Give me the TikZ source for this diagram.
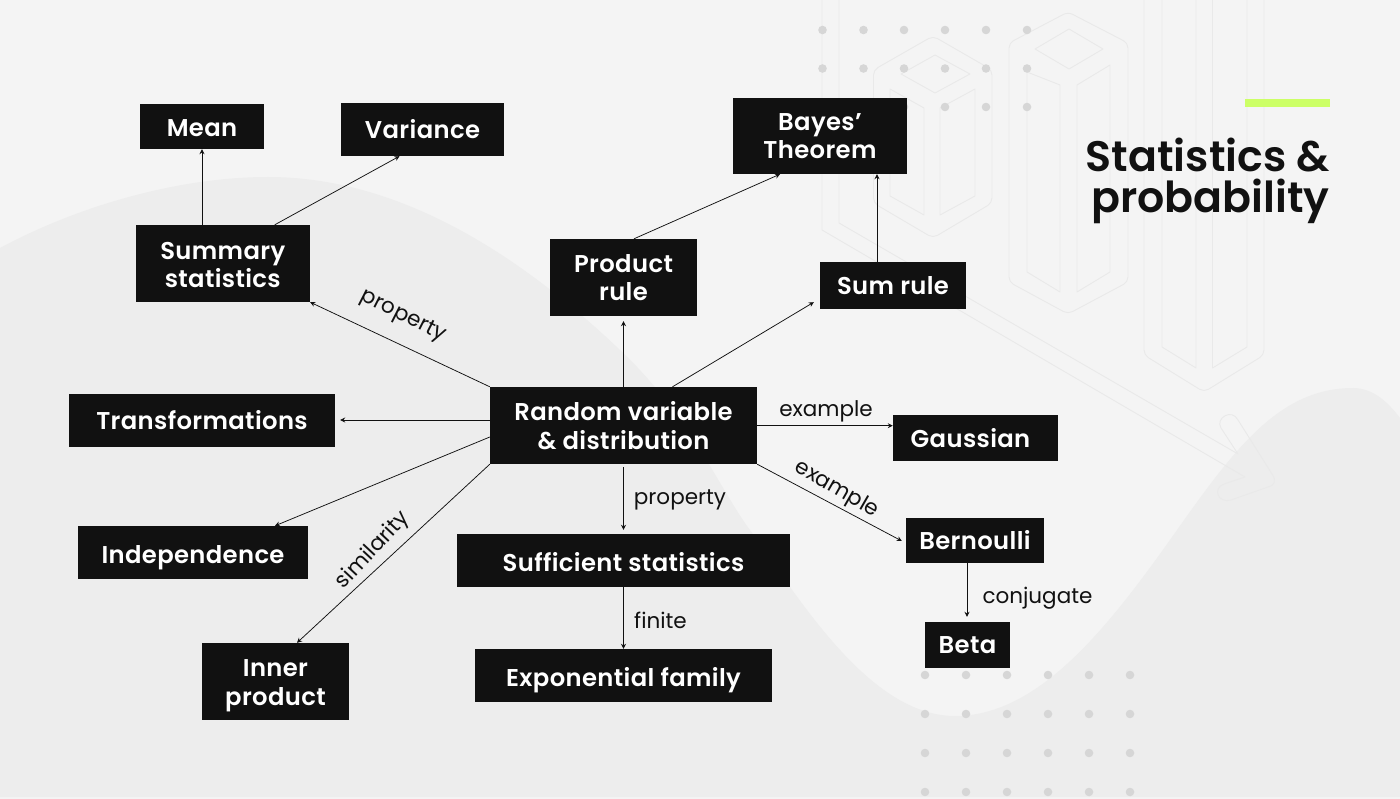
\documentclass[tikz,border=0pt]{standalone}
\usepackage{fontspec}
\usetikzlibrary{arrows.meta,calc}
\newfontfamily\popsb[LetterSpace=1.5]{Poppins SemiBold}
\newfontfamily\poptitle{Poppins SemiBold}
\newfontfamily\popreg{Poppins}
\definecolor{bgc}{HTML}{F4F4F4}
\definecolor{wavec}{HTML}{EDEDED}
\definecolor{linec}{HTML}{E9E9E9}
\definecolor{dotc}{HTML}{D6D6D6}
\definecolor{boxc}{HTML}{111111}
\definecolor{barc}{HTML}{CCFF66}
\tikzset{
  bx/.style={fill=boxc,text=white,inner sep=0pt,font=\popsb\fontsize{24.3}{28.5}\selectfont,align=center,anchor=center},
  lab/.style={text=boxc,inner sep=0pt,font=\popreg\fontsize{21.5}{25}\selectfont},
  con/.style={draw=boxc,line width=0.75pt,-{Stealth[length=5pt,width=5pt]}},
  deco/.style={draw=linec,line width=0.9pt,line join=round},
  hexo/.style={deco,rounded corners=5pt},
  dotf/.style={fill=dotc,draw=none}
}
\newcommand{\bxnode}[6]{\node[bx,minimum width=#4 pt - #3 pt,minimum height=#6 pt - #5 pt] (#1) at ({(#3+#4)/2},{(#5+#6)/2}) {#2};}
\newcommand{\dn}[1]{\rule{0pt}{#1pt}}
\begin{document}
\begin{tikzpicture}[x=1pt,y=-1pt]
\useasboundingbox (0,0) rectangle (1400,799);
\fill[bgc] (0,0) rectangle (1400,799);
% wave
\fill[wavec] (0,248) .. controls (80,205) and (180,177) .. (268,177)
  .. controls (400,177) and (520,255) .. (620,350)
  .. controls (690,416) and (720,490) .. (750,530)
  .. controls (800,600) and (870,716) .. (955,716)
  .. controls (1040,716) and (1110,625) .. (1177,530)
  .. controls (1235,448) and (1280,388) .. (1353,388)
  .. controls (1375,388) and (1390,405) .. (1400,418)
  -- (1400,797) -- (0,797) -- cycle;
% decorative hexagons
\draw[hexo] (873.5,70) -- (933,36) -- (992,70) -- (992,203) -- (933,238) -- (873.5,203) -- cycle;
\draw[deco] (935,55) -- (970,74) -- (935,93) -- (901,74) -- cycle;
\draw[deco] (890,89) -- (924,108) -- (924,215) -- (890,196) -- cycle;
\draw[deco] (940,108) -- (975,89) -- (975,196) -- (940,215) -- cycle;
\draw[hexo] (1009,43) -- (1068,12) -- (1128,43) -- (1128,282) -- (1068,314) -- (1009,282) -- cycle;
\draw[deco] (1069,29) -- (1103,49) -- (1069,69) -- (1035,49) -- cycle;
\draw[deco] (1027,72) -- (1060,85) -- (1060,292) -- (1027,272) -- cycle;
\draw[deco] (1077,85) -- (1110,65) -- (1110,272) -- (1077,292) -- cycle;
\draw[hexo] (1144,-8) -- (1144,355) -- (1204,392) -- (1264,355) -- (1264,-8);
\draw[deco] (1162,0) -- (1162,347) -- (1196,368) -- (1196,0);
\draw[deco] (1212.5,0) -- (1212.5,368) -- (1247,347) -- (1247,0);
\draw[deco] (839,0) -- (839,223) -- (1238,454) -- (1221,428)
  .. controls (1215,418) and (1232,408) .. (1238,420)
  -- (1272,474) .. controls (1277,481) and (1274,486) .. (1268,487)
  -- (1231,500) .. controls (1218,504) and (1212,488) .. (1224,484)
  -- (1245,477) -- (822,230) -- (822,0);
% dots
\foreach \x in {822.5,863.5,904,945,986,1027}
  \foreach \y in {30,68.5,107}
    \fill[dotf] (\x,\y) circle (4.3);
\foreach \x in {925,966,1007,1048,1089,1130}
  \foreach \y in {675,714,753,792}
    \fill[dotf] (\x,\y) circle (4.3);
% accent
\fill[barc] (1245,99) rectangle (1330,107);
% title
\node[anchor=east,inner sep=0pt,text=boxc,align=right,font=\poptitle\fontsize{42.7}{41.5}\selectfont] (title) at (1330,181) {Statistics \&\\probability};
% boxes
\bxnode{mean}{\dn{20}Mean}{140}{264}{104}{149}
\bxnode{var}{Variance}{341}{504}{103}{156}
\bxnode{summ}{\dn{20}Summary\\statistics}{135.5}{310}{225}{302}
\bxnode{bayes}{Bayes’\\Theorem}{733}{907}{98}{174}
\bxnode{prod}{Product\\rule}{550}{697}{239}{316}
\bxnode{sumr}{Sum rule}{820}{966}{262}{309}
\bxnode{rand}{Random variable\\\& distribution}{490}{757}{387}{464}
\bxnode{trans}{Transformations}{69}{335}{394}{447}
\bxnode{gauss}{Gaussian\hspace{10pt}}{893}{1058}{415}{461}
\bxnode{indep}{\dn{28}Independence}{78}{308}{526}{579}
\bxnode{suff}{\dn{22}Sufficient statistics}{457}{790}{534}{587}
\bxnode{bern}{Bernoulli}{906}{1044}{518}{563}
\bxnode{beta}{Beta}{925}{1010}{622}{668}
\bxnode{inner}{\dn{25}Inner\\product}{202}{349}{643}{720}
\bxnode{expo}{\dn{28}Exponential family}{475}{772}{649}{702}
% connectors
\draw[con] (mean |- summ.north) -- (mean.south);
\draw[con] ($(summ.north)+(52,0)$) -- ($(var.south)+(-23,0)$);
\draw[con] (rand.north west) -- (summ.south east);
\draw[con] (rand.north) -- ($(prod.south)+(0,5)$);
\draw[con] ($(rand.north)+(49,0)$) -- ($(sumr.south west)+(-6,-7)$);
\draw[con] ($(sumr.north)+(-16,0)$) -- ($(bayes.south)+(57,0)$);
\draw[con] ($(prod.north)+(10.5,0)$) -- ($(bayes.south)+(-40,0)$);
\draw[con] ($(rand.west)+(0,-5.5)$) -- ($(trans.east)+(5,-0.5)$);
\draw[con] ($(rand.west)+(0,11.5)$) -- ($(indep.north)+(82,0)$);
\draw[con] (rand.south west) -- ($(inner.north)+(21.5,0)$);
\draw[con] ($(rand.south)+(0,3)$) -- ($(suff.north)+(0,-4)$);
\draw[con] (suff.south) -- (expo.north);
\draw[con] ($(rand.east)+(0,0.2)$) -- ($(gauss.west)+(0,-12.3)$);
\draw[con] (rand.south east) -- ($(bern.west)+(-4,0.5)$);
\draw[con] ($(bern.south)+(-8,0)$) -- ($(beta.north)+(-0.5,-5)$);
% labels
\node[lab,rotate=-27] (l1) at (403,316.5) {property};
\node[lab,rotate=47] (l2) at (373,550.5) {similarity};
\node[lab] (l3) at (826,411) {example};
\node[lab,rotate=-30] (l4) at (836.5,489.5) {example};
\node[lab] (l5) at (680,499.5) {property};
\node[lab] (l6) at (660.5,620) {finite};
\node[lab] (l7) at (1037.5,598.5) {conjugate};
\end{tikzpicture}
\end{document}
